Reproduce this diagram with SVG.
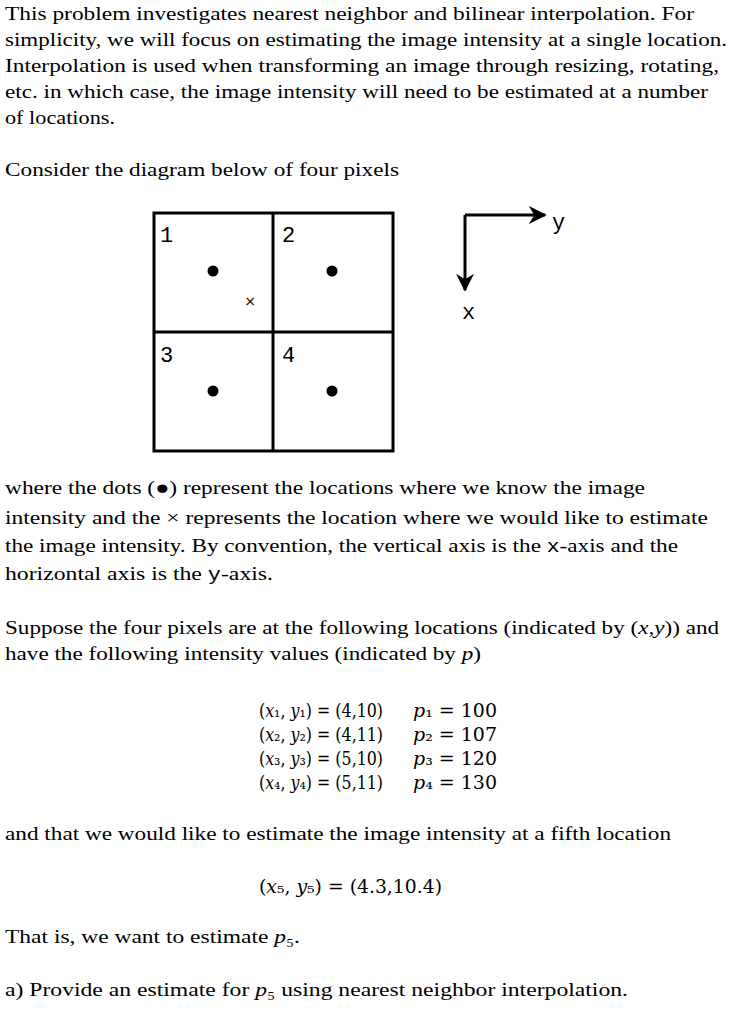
<svg xmlns="http://www.w3.org/2000/svg" width="740" height="1024" viewBox="0 0 740 1024">
<style>
.t{font-family:"Liberation Serif",serif;font-size:19.5px;fill:#000}
.m{font-family:"Liberation Mono",monospace;font-size:22px;fill:#000}
.e{font-family:"DejaVu Serif","Liberation Serif",serif;font-size:18px;fill:#000}
.g{fill:none;stroke:#000;stroke-width:3}
</style>
<defs><marker id="ah" viewBox="0 0 10 10" refX="9" refY="5" markerWidth="6" markerHeight="6" orient="auto"><path d="M0,0 L10,5 L0,10 L3,5 Z" fill="#000"/></marker></defs>
<rect width="740" height="1024" fill="#fff"/>
<text class="t" x="5" y="20" textLength="689" lengthAdjust="spacingAndGlyphs">This problem investigates nearest neighbor and bilinear interpolation.  For</text>
<text class="t" x="5" y="46" textLength="722" lengthAdjust="spacingAndGlyphs">simplicity, we will focus on estimating the image intensity at a single location.</text>
<text class="t" x="5" y="72" textLength="714" lengthAdjust="spacingAndGlyphs">Interpolation is used when transforming an image through resizing, rotating,</text>
<text class="t" x="5" y="98" textLength="703" lengthAdjust="spacingAndGlyphs">etc. in which case, the image intensity will need to be estimated at a number</text>
<text class="t" x="5" y="124" textLength="110" lengthAdjust="spacingAndGlyphs">of locations.</text>
<text class="t" x="5" y="176" textLength="394" lengthAdjust="spacingAndGlyphs">Consider the diagram below of four pixels</text>
<g id="grid">
<rect class="g" x="154" y="213" width="239" height="238"/>
<line class="g" x1="273" y1="213" x2="273" y2="451"/>
<line class="g" x1="154" y1="332" x2="393" y2="332"/>
<text class="m" x="160" y="242">1</text><text class="m" x="282" y="242">2</text>
<text class="m" x="160" y="362">3</text><text class="m" x="282" y="362">4</text>
<circle cx="213" cy="271" r="5.5"/><circle cx="332" cy="271" r="5.5"/>
<circle cx="213" cy="391" r="5.5"/><circle cx="332" cy="391" r="5.5"/>
<text x="250" y="306" font-family="DejaVu Sans,sans-serif" font-size="14" text-anchor="middle">×</text>
</g>
<g id="axes">
<path d="M465,215 H545" stroke="#000" stroke-width="3" fill="none" marker-end="url(#ah)"/>
<path d="M465,215 V290" stroke="#000" stroke-width="3" fill="none" marker-end="url(#ah)"/>
<text class="m" x="552" y="229">y</text>
<text class="m" x="462" y="319">x</text>
</g>
<text class="t" x="5" y="494" textLength="640" lengthAdjust="spacingAndGlyphs">where the dots (●) represent the locations where we know the image</text>
<text class="t" x="5" y="524" textLength="703" lengthAdjust="spacingAndGlyphs">intensity and the × represents the location where we would like to estimate</text>
<text class="t" x="5" y="552" textLength="673" lengthAdjust="spacingAndGlyphs">the image intensity.  By convention, the vertical axis is the <tspan font-family="Liberation Mono,monospace" font-size="18">x</tspan>-axis and the</text>
<text class="t" x="5" y="580" textLength="268" lengthAdjust="spacingAndGlyphs">horizontal axis is the <tspan font-family="Liberation Mono,monospace" font-size="18">y</tspan>-axis.</text>
<text class="t" x="5" y="634" textLength="714" lengthAdjust="spacingAndGlyphs">Suppose the four pixels are at the following locations (indicated by (<tspan font-style="italic">x,y</tspan>)) and</text>
<text class="t" x="5" y="660" textLength="476" lengthAdjust="spacingAndGlyphs">have the following intensity values (indicated by <tspan font-style="italic">p</tspan>)</text>
<g class="e">
<text x="259" y="717" textLength="124" lengthAdjust="spacingAndGlyphs">(<tspan font-style="italic">x</tspan>₁, <tspan font-style="italic">y</tspan>₁) = (4,10)</text>
<text x="259" y="741" textLength="124" lengthAdjust="spacingAndGlyphs">(<tspan font-style="italic">x</tspan>₂, <tspan font-style="italic">y</tspan>₂) = (4,11)</text>
<text x="259" y="765" textLength="124" lengthAdjust="spacingAndGlyphs">(<tspan font-style="italic">x</tspan>₃, <tspan font-style="italic">y</tspan>₃) = (5,10)</text>
<text x="259" y="789" textLength="124" lengthAdjust="spacingAndGlyphs">(<tspan font-style="italic">x</tspan>₄, <tspan font-style="italic">y</tspan>₄) = (5,11)</text>
<text x="413" y="717" textLength="84" lengthAdjust="spacingAndGlyphs"><tspan font-style="italic">p</tspan>₁ = 100</text>
<text x="413" y="741" textLength="84" lengthAdjust="spacingAndGlyphs"><tspan font-style="italic">p</tspan>₂ = 107</text>
<text x="413" y="765" textLength="84" lengthAdjust="spacingAndGlyphs"><tspan font-style="italic">p</tspan>₃ = 120</text>
<text x="413" y="789" textLength="84" lengthAdjust="spacingAndGlyphs"><tspan font-style="italic">p</tspan>₄ = 130</text>
<text x="259" y="893" textLength="183" lengthAdjust="spacingAndGlyphs">(<tspan font-style="italic">x</tspan>₅, <tspan font-style="italic">y</tspan>₅) = (4.3,10.4)</text>
</g>
<text class="t" x="5" y="840" textLength="666" lengthAdjust="spacingAndGlyphs">and that we would like to estimate the image intensity at a fifth location</text>
<text class="t" x="5" y="943" textLength="295" lengthAdjust="spacingAndGlyphs">That is, we want to estimate <tspan font-style="italic">p</tspan>₅.</text>
<text class="t" x="5" y="996" textLength="623" lengthAdjust="spacingAndGlyphs">a)  Provide an estimate for <tspan font-style="italic">p</tspan>₅ using nearest neighbor interpolation.</text>
</svg>
